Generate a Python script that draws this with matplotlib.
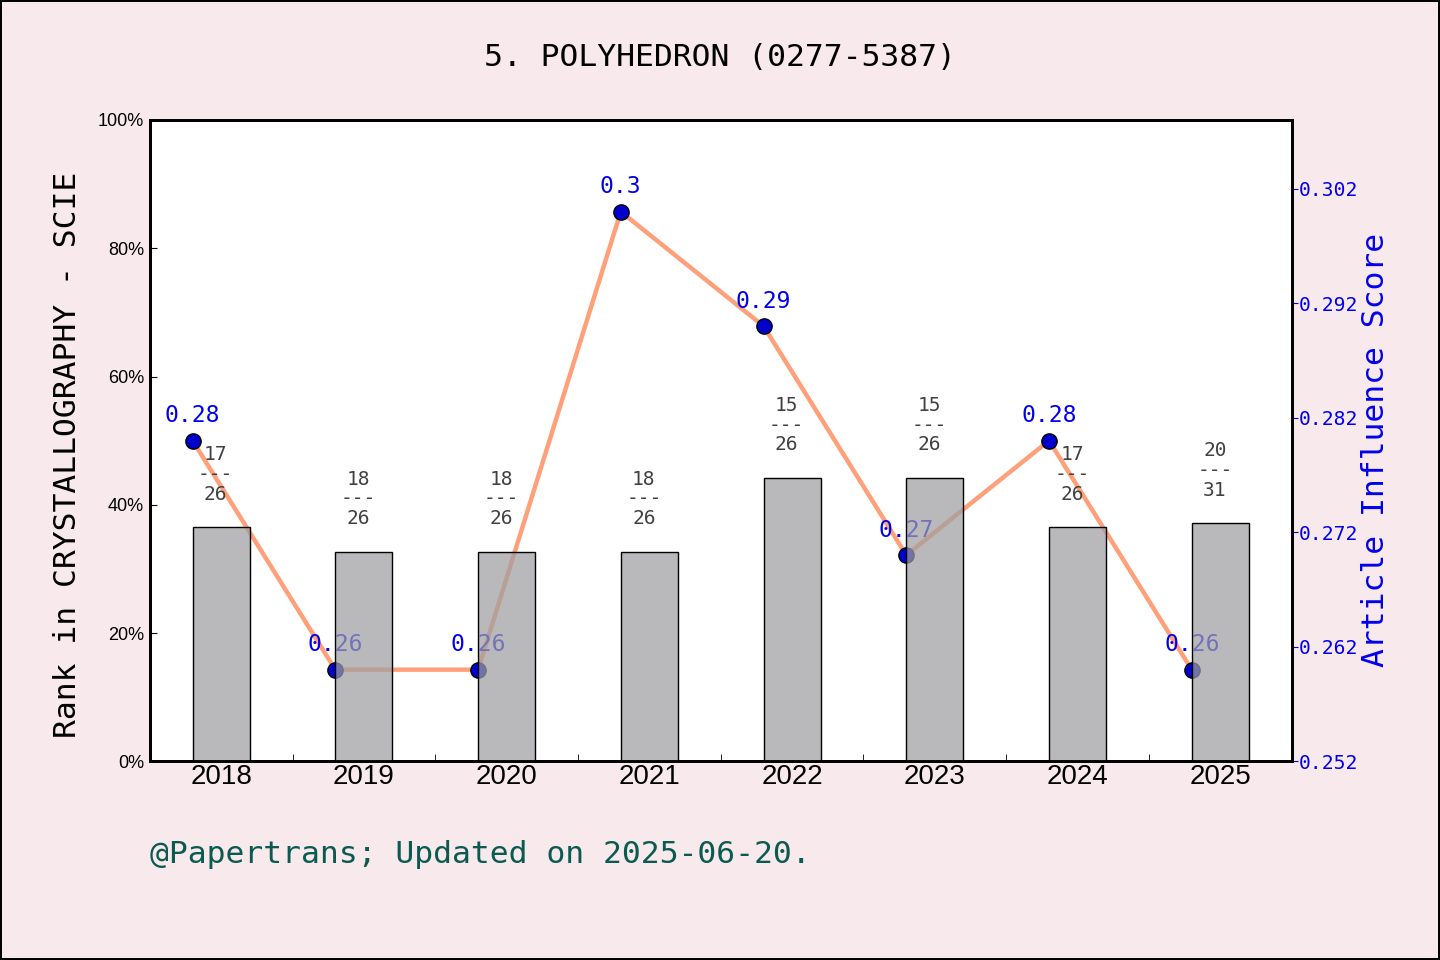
import matplotlib
matplotlib.use("Agg")
import matplotlib.pyplot as plt
from matplotlib import font_manager
from matplotlib.ticker import FixedLocator, PercentFormatter

# data
years = ["2018", "2019", "2020", "2021", "2022", "2023", "2024", "2025"]
rank = [17, 18, 18, 18, 15, 15, 17, 20]
total = [26, 26, 26, 26, 26, 26, 26, 31]
rank_pct = [36.5, 32.7, 32.7, 32.7, 44.2, 44.2, 36.5, 37.1]
ais = [0.28, 0.26, 0.26, 0.30, 0.29, 0.27, 0.28, 0.26]
ais_ticks = [0.252, 0.262, 0.272, 0.282, 0.292, 0.302]

names = {f.name for f in font_manager.fontManager.ttflist}
if "Noto Sans Mono CJK SC" in names:
    mono, k = "Noto Sans Mono CJK SC", 1.0
else:
    mono, k = "DejaVu Sans Mono", 0.87
sans = "Liberation Sans" if "Liberation Sans" in names else "DejaVu Sans"

bg = "#f8e9ec"
blue = "#0000ee"
bar_w = 0.4
fig = plt.figure(figsize=(14.4, 9.6), dpi=100, facecolor=bg,
                 edgecolor="black", linewidth=1.5)
ax = fig.add_axes([0.104, 0.207, 0.793, 0.668])
ax2 = ax.twinx()

x = list(range(len(years)))
# the line points sit on the left edge of each bar
xl = [i - bar_w / 2 for i in x]

# line on the right axis (drawn below the bars)
ax2.plot(xl, ais, color="#ffa07a", lw=3.2, zorder=2)
ax2.plot(xl, ais, ls="none", marker="o", ms=11, mfc="#0000cd", mec="black",
         mew=1, zorder=3)
for xi, v in zip(xl, ais):
    ax2.annotate(f"{v:g}", (xi, v), xytext=(0, 18), textcoords="offset points",
                 ha="center", va="center", color=blue, fontsize=20 * 0.83,
                 family=mono)
ax2.set_ylim(min(ais) - 0.008, max(ais) + 0.008)
ax2.yaxis.set_major_locator(FixedLocator(ais_ticks))
ax2.set_yticklabels([f"{t:.3f}" for t in ais_ticks], family=mono,
                    fontsize=17 * 0.83, color=blue)
ax2.tick_params(axis="y", direction="out", length=4, color=blue, pad=1)
ax2.patch.set_visible(True)
ax2.set_facecolor("white")

# bars on the left axis, drawn on top
ax.set_zorder(ax2.get_zorder() + 1)
ax.patch.set_visible(False)
ax.bar(x, rank_pct, width=bar_w, facecolor=(0.62, 0.625, 0.635, 0.72),
       edgecolor="black", lw=1)
for xi, h, r, n in zip(x, rank_pct, rank, total):
    ax.annotate(f"{r}\n---\n{n}", (xi, h), xytext=(-4, 38),
                textcoords="offset points", ha="center", va="center",
                fontsize=14, color="#404040", family=mono, linespacing=1.05)
ax.set_xlim(-0.5, len(years) - 0.5)
ax.set_ylim(0, 100)
ax.yaxis.set_major_formatter(PercentFormatter(decimals=0))
ax.set_yticks([0, 20, 40, 60, 80, 100])
for lab in ax.get_yticklabels():
    lab.set_family(sans)
    lab.set_fontsize(13)
ax.tick_params(axis="y", direction="in", length=5, pad=4)
ax.set_xticks(x)
ax.set_xticklabels(years, family=sans, fontsize=20)
ax.tick_params(axis="x", length=0, pad=2)
ax.set_xticks([i + 0.5 for i in x[:-1]], minor=True)
ax.tick_params(axis="x", which="minor", direction="in", length=5)

for a in (ax, ax2):
    for s in a.spines.values():
        s.set_linewidth(2)

fig.text(0.5, 0.94, "5. POLYHEDRON (0277-5387)", ha="center", va="center",
         fontsize=26 * k, family=mono)
fig.text(0.047, 0.526, "Rank in CRYSTALLOGRAPHY - SCIE", rotation=90,
         ha="center", va="center", fontsize=26 * k, family=mono)
fig.text(0.955, 0.531, "Article Influence Score", rotation=90, ha="center",
         va="center", fontsize=26 * k, family=mono, color=blue)
fig.text(0.104, 0.11, "@Papertrans; Updated on 2025-06-20.", ha="left",
         va="center", fontsize=26 * k, family=mono, color="#0b5a50")

fig.savefig("out.png", dpi=100, facecolor=bg, edgecolor="black")
